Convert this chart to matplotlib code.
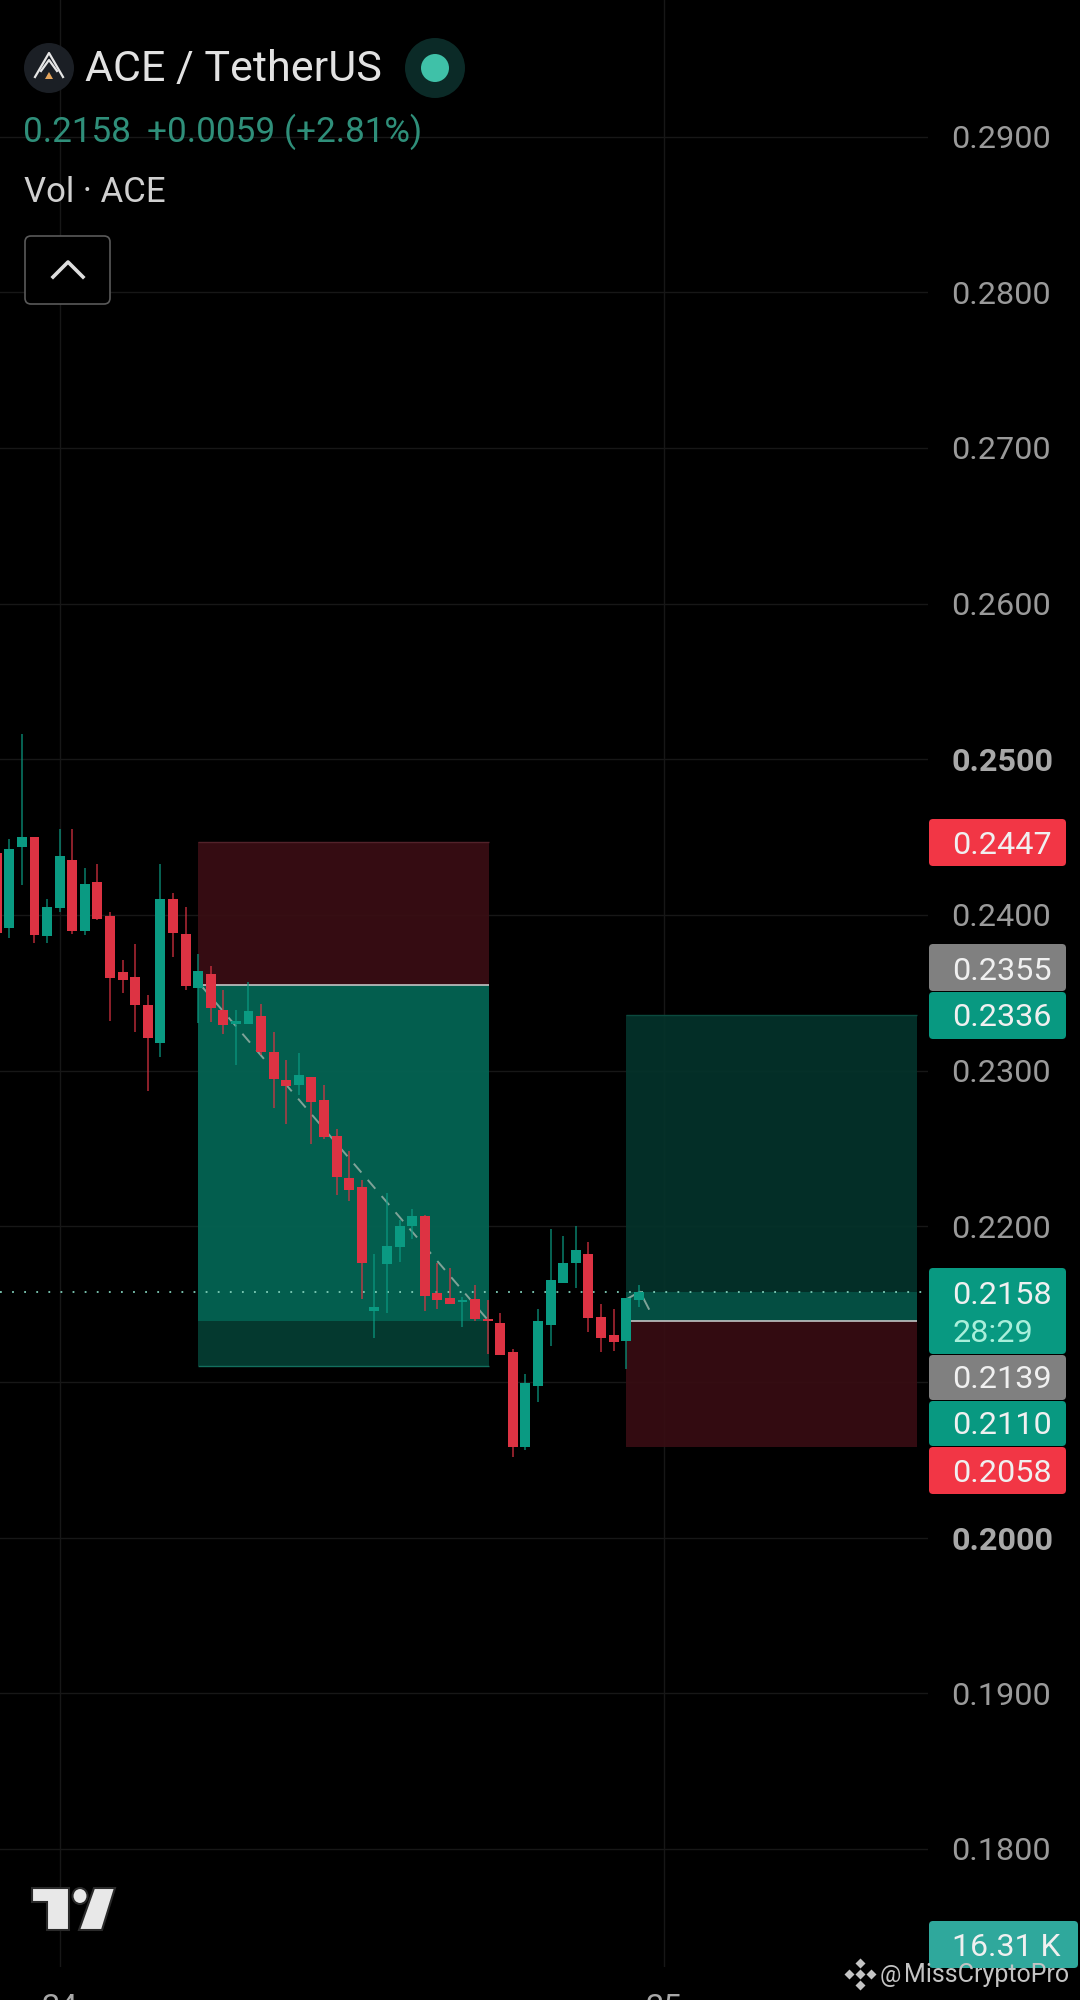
import numpy as np
import matplotlib
matplotlib.use("Agg")
import matplotlib.pyplot as plt
from matplotlib.patches import Circle, FancyBboxPatch, Polygon, Ellipse

plt.rcParams['font.family'] = ['Roboto', 'DejaVu Sans']

# candles, left to right
opens = [0.24395, 0.23919, 0.24438, 0.24504, 0.23867, 0.24047, 0.24353, 0.23897, 0.24209, 0.23994,
         0.23635, 0.23603, 0.23423, 0.23175, 0.24100, 0.23878, 0.23528, 0.23620, 0.23389, 0.23299,
         0.23297, 0.23350, 0.23120, 0.22940, 0.22906, 0.22961, 0.22814, 0.22577, 0.22308, 0.22250,
         0.21459, 0.21756, 0.21868, 0.22000, 0.22068, 0.21573, 0.21538, 0.21513, 0.21530, 0.21406,
         0.21378, 0.21192, 0.20583, 0.20976, 0.21368, 0.21637, 0.21765, 0.21821, 0.21415, 0.21299,
         0.21265, 0.21526]
highs = [0.24395, 0.24485, 0.25160, 0.24504, 0.24100, 0.24551, 0.24551, 0.24299, 0.24325, 0.24017,
         0.23709, 0.23812, 0.23489, 0.24325, 0.24141, 0.24049, 0.23748, 0.23671, 0.23517, 0.23389,
         0.23568, 0.23425, 0.23246, 0.23068, 0.23113, 0.22961, 0.22910, 0.22626, 0.22483, 0.22295,
         0.21825, 0.22216, 0.22038, 0.22113, 0.22071, 0.21767, 0.21733, 0.21547, 0.21626, 0.21526,
         0.21440, 0.21209, 0.21049, 0.21466, 0.21985, 0.21936, 0.22000, 0.21897, 0.21498, 0.21466,
         0.21538, 0.21622]
lows = [0.23887, 0.23855, 0.24194, 0.23823, 0.23823, 0.24021, 0.23880, 0.23874, 0.23970, 0.23320,
        0.23500, 0.23246, 0.22867, 0.23090, 0.23733, 0.23521, 0.23303, 0.23314, 0.23233, 0.23034,
        0.23297, 0.23103, 0.22758, 0.22654, 0.22846, 0.22526, 0.22562, 0.22199, 0.22160, 0.21532,
        0.21280, 0.21440, 0.21769, 0.21921, 0.21459, 0.21468, 0.21502, 0.21353, 0.21393, 0.21179,
        0.21173, 0.20515, 0.20564, 0.20872, 0.21231, 0.21637, 0.21605, 0.21320, 0.21194, 0.21201,
        0.21085, 0.21483]
closes = [0.23887, 0.24427, 0.24504, 0.23874, 0.24049, 0.24378, 0.23897, 0.24199, 0.23974, 0.23598,
          0.23583, 0.23419, 0.23207, 0.24100, 0.23887, 0.23545, 0.23639, 0.23402, 0.23295, 0.23316,
          0.23382, 0.23117, 0.22949, 0.22900, 0.22972, 0.22797, 0.22573, 0.22314, 0.22231, 0.21765,
          0.21481, 0.21872, 0.22000, 0.22068, 0.21551, 0.21526, 0.21502, 0.21526, 0.21402, 0.21393,
          0.21173, 0.20583, 0.20994, 0.21391, 0.21658, 0.21767, 0.21846, 0.21412, 0.21282, 0.21259,
          0.21538, 0.21577]

price_ticks = [0.18, 0.19, 0.20, 0.21, 0.22, 0.23, 0.24, 0.25, 0.26, 0.27, 0.28, 0.29]
price_labels = ["0.1800", "0.1900", "0.2000", "", "0.2200", "0.2300", "0.2400", "0.2500",
                "0.2600", "0.2700", "0.2800", "0.2900"]
day_ticks = [4, 52]
day_labels = ["24", "25"]

last_price = 0.2158

# short position drawing: stop, entry, level at last bar, target
short_span = [15, 38.1]
short_levels = [0.2447, 0.2355, 0.2139, 0.2110]
short_path_x = [15.2, 38.1]
short_path_y = [0.2355, 0.2139]

# long position drawing: target, level at last bar, entry, stop
long_span = [49, 72.1]
long_levels = [0.2336, 0.2158, 0.2139, 0.2058]
long_path_x = [49.0, 50.1, 50.8]
long_path_y = [0.2153, 0.2158, 0.2147]

GREEN = "#0a9a82"
RED = "#dd3343"
BG = "#000000"

fig = plt.figure(figsize=(10.8, 20), dpi=100, facecolor=BG)
ax = fig.add_axes([0, 33 / 2000, 928 / 1080, 1967 / 2000], facecolor=BG)
ax.set_xlim(-0.739, 72.98)
ax.set_ylim(0.172415, 0.298780)

ax.set_yticks(price_ticks)
ax.set_yticklabels(price_labels)
ax.set_xticks(day_ticks)
ax.set_xticklabels(day_labels)
ax.yaxis.tick_right()
ax.tick_params(axis='y', length=0, pad=17, labelsize=23.3, labelcolor="#9a9a9a")
ax.tick_params(axis='x', length=0, pad=19, labelsize=23.3, labelcolor="#a8a8a8")
for lab in ax.get_yticklabels():
    if lab.get_text() in ("0.2500", "0.2000"):
        lab.set_fontweight('bold')
        lab.set_color("#a8a8a8")
for s in ax.spines.values():
    s.set_visible(False)
ax.grid(True, color="#171717", lw=1)
ax.set_axisbelow(True)

# position boxes
ax.fill_between(short_span, short_levels[1], short_levels[0], color="#3a0e14", alpha=0.92, lw=0, zorder=1)
ax.fill_between(short_span, short_levels[2], short_levels[1], color="#046352", alpha=0.96, lw=0, zorder=1)
ax.fill_between(short_span, short_levels[3], short_levels[2], color="#053c32", alpha=0.96, lw=0, zorder=1)
ax.hlines(short_levels[1], *short_span, color="#c4c4c4", lw=1.2, zorder=2)
ax.hlines(short_levels[3], *short_span, color="#136f5e", lw=1, zorder=2)
ax.hlines(short_levels[0], *short_span, color="#52222a", lw=1, zorder=2)

ax.fill_between(long_span, long_levels[1], long_levels[0], color="#04332b", alpha=0.92, lw=0, zorder=1)
ax.fill_between(long_span, long_levels[2], long_levels[1], color="#055245", alpha=0.96, lw=0, zorder=1)
ax.fill_between(long_span, long_levels[3], long_levels[2], color="#380d13", alpha=0.92, lw=0, zorder=1)
ax.hlines(long_levels[2], *long_span, color="#c4c4c4", lw=1.2, zorder=2)
ax.hlines(long_levels[0], *long_span, color="#0b4a3e", lw=1, zorder=2)

ax.plot(short_path_x, short_path_y, color="#7fa398", lw=1.4, ls=(0, (6, 5)), zorder=3)
ax.plot(long_path_x, long_path_y, color="#7fa398", lw=1.4, zorder=3)
ax.axhline(last_price, color="#7fcdb8", lw=1.3, ls=(0, (1, 5.7)), zorder=3)

# candles
idx = np.arange(-1, len(opens) - 1)
o = np.array(opens)
c = np.array(closes)
cols = [GREEN if cc >= oo else RED for oo, cc in zip(o, c)]
ax.vlines(idx, lows, highs, colors=cols, lw=1.2, alpha=0.75, zorder=4)
ax.bar(idx, np.abs(c - o), bottom=np.minimum(o, c), width=0.79, color=cols, lw=0, zorder=5)

# interface layer in pixels
ui = fig.add_axes([0, 0, 1, 1])
ui.set_xlim(0, 1080)
ui.set_ylim(2000, 0)
ui.axis('off')
ui.patch.set_alpha(0)

# pair icon and title
ui.add_patch(Circle((49, 68), 25, color="#1b1f25", lw=0))
ui.plot([35, 49, 63], [77, 53, 77], color="#e6e6e6", lw=1.6)
ui.plot([41, 49, 57], [71, 60, 71], color="#e6e6e6", lw=1.6)
ui.add_patch(Polygon([(45, 79), (53, 79), (49, 72)], color="#e3a45c", lw=0))
ui.text(85, 81, "ACE / TetherUS", color="#e2e2e2", fontsize=31, fontweight='regular')
ui.add_patch(Circle((435, 68), 30, color="#0b2a27", lw=0))
ui.add_patch(Circle((435, 68), 14, color="#3fc1a8", lw=0))

ui.text(23, 142, "0.2158", color="#2f8f7a", fontsize=25.3)
ui.text(147, 142, "+0.0059 (+2.81%)", color="#2f8f7a", fontsize=25.3)
ui.text(24, 202, "Vol · ACE", color="#d0d0d0", fontsize=25)

ui.add_patch(FancyBboxPatch((28, 239), 79, 62, boxstyle="round,pad=3,rounding_size=6",
                            fc=BG, ec="#5a5a5a", lw=1.2))
ui.plot([53, 68, 83], [277, 262, 277], color="#dedede", lw=2.6)

# price tags: label, colour, top, bottom
tag_labels = ["0.2447", "0.2355", "0.2336", "0.2158", "0.2139", "0.2110", "0.2058"]
tag_colors = ["#f23645", "#808080", "#089981", "#089981", "#808080", "#089981", "#f23645"]
tag_tops = [819, 944, 992, 1268, 1355, 1401, 1447]
tag_bottoms = [866, 991, 1039, 1354, 1400, 1446, 1494]
tag_text_y = [843, 968, 1015, 1292, 1377, 1423, 1470]
for lab, col, t, b, ty in zip(tag_labels, tag_colors, tag_tops, tag_bottoms, tag_text_y):
    ui.add_patch(FancyBboxPatch((932, t + 3), 131, b - t - 6, boxstyle="round,pad=3,rounding_size=4",
                                fc=col, ec="none"))
    ui.text(952, ty, lab, color="#f0f0f0", fontsize=23.3, va='center_baseline')
ui.text(952, 1331, "28:29", color="#a9efdb", fontsize=23.3, va='center_baseline')

ui.add_patch(FancyBboxPatch((932, 1924), 143, 41, boxstyle="round,pad=3,rounding_size=4",
                            fc="#2fa89c", ec="none"))
ui.text(952, 1945, "16.31 K", color="#f0f0f0", fontsize=23, va='center_baseline')

# tradingview logo
logo = "#e8e8e8"
ui.add_patch(Polygon([(32, 1888), (69, 1888), (69, 1930), (47, 1930), (47, 1902), (32, 1902)],
                     fc=logo, ec="#2a2a2a", lw=1.5))
ui.add_patch(Ellipse((80, 1896), 15, 16, fc=logo, ec="#2a2a2a", lw=1.5))
ui.add_patch(Polygon([(94, 1888), (115, 1888), (102, 1930), (79, 1930)], fc=logo, ec="#2a2a2a", lw=1.5))

# watermark
ui.plot([860, 860, 860, 849, 871], [1963, 1974, 1985, 1974, 1974], ls='none', marker='D', ms=5.5,
        mfc="#c4c4c4", mec="none")
ui.text(880, 1982, "@", color="#c4c4c4", fontsize=17)
ui.text(904, 1982, "MissCryptoPro", color="#c4c4c4", fontsize=18)

fig.savefig("out.png", dpi=100, facecolor=BG)
